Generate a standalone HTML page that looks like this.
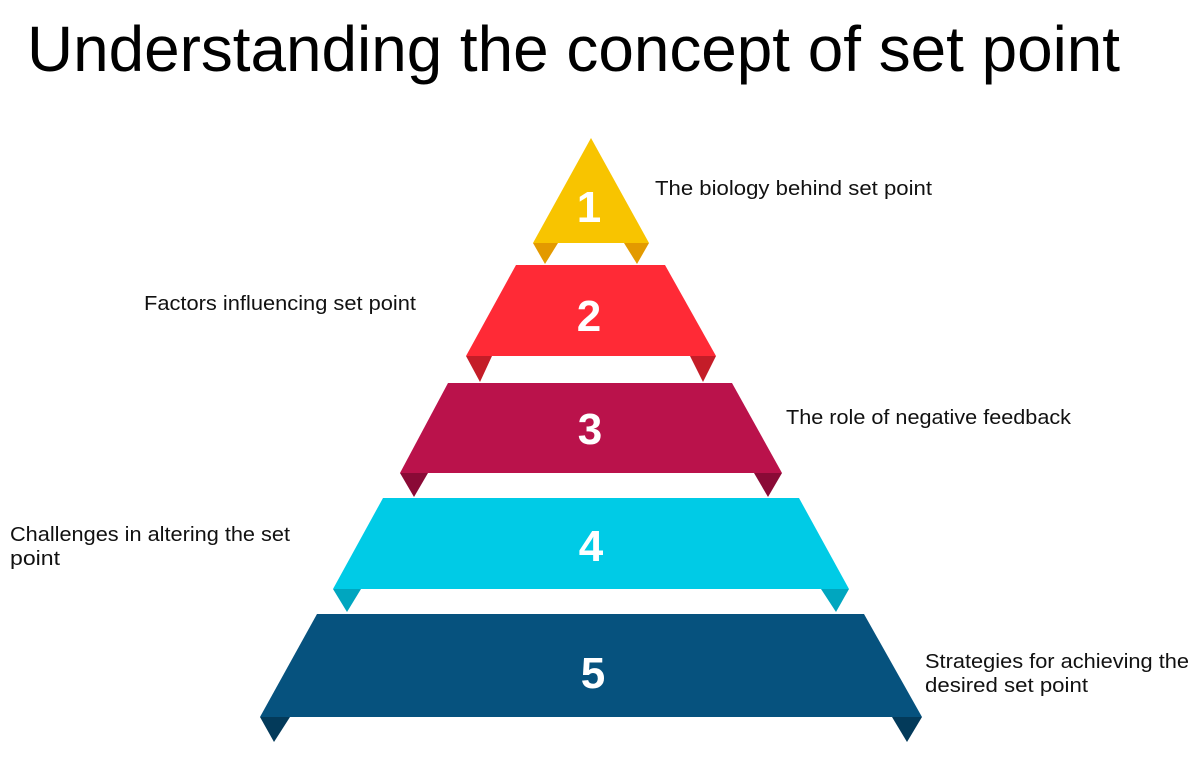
<!DOCTYPE html>
<html><head><meta charset="utf-8"><style>html,body{margin:0;padding:0;background:#fff;}svg{display:block}</style></head>
<body>
<svg width="1202" height="769" viewBox="0 0 1202 769" xmlns="http://www.w3.org/2000/svg">
<text x="27" y="71" font-family="Liberation Sans, sans-serif" font-size="64" textLength="1093" lengthAdjust="spacingAndGlyphs" fill="#000">Understanding the concept of set point</text>

<!-- tier 1 -->
<polygon points="533,243 558,243 545,264" fill="#E39A00"/>
<polygon points="649,243 624,243 637,264" fill="#E39A00"/>
<polygon points="591,138 649,243 533,243" fill="#F8C400"/>
<!-- tier 2 -->
<polygon points="466,356 492,356 480,382" fill="#C41D28"/>
<polygon points="716,356 690,356 703,382" fill="#C41D28"/>
<polygon points="516,265 665,265 716,356 466,356" fill="#FF2A36"/>
<!-- tier 3 -->
<polygon points="400,473 428,473 414,497" fill="#8A0A36"/>
<polygon points="782,473 754,473 768,497" fill="#8A0A36"/>
<polygon points="448,383 732,383 782,473 400,473" fill="#BA124B"/>
<!-- tier 4 -->
<polygon points="333,589 361,589 347,612" fill="#00A6BF"/>
<polygon points="849,589 821,589 836,612" fill="#00A6BF"/>
<polygon points="383,498 799,498 849,589 333,589" fill="#00CBE6"/>
<!-- tier 5 -->
<polygon points="260,717 290,717 274,742" fill="#033A5A"/>
<polygon points="922,717 892,717 907,742" fill="#033A5A"/>
<polygon points="317,614 864,614 922,717 260,717" fill="#06527E"/>

<g font-family="Liberation Sans, sans-serif" font-weight="bold" font-size="44" fill="#fff" text-anchor="middle">
<text x="589" y="222">1</text>
<text x="589" y="331">2</text>
<text x="590" y="444">3</text>
<text x="591" y="561">4</text>
<text x="593" y="688">5</text>
</g>

<g font-family="Liberation Sans, sans-serif" font-size="20" fill="#111">
<text x="655" y="195" textLength="277" lengthAdjust="spacingAndGlyphs">The biology behind set point</text>
<text x="144" y="310" textLength="272" lengthAdjust="spacingAndGlyphs">Factors influencing set point</text>
<text x="786" y="424" textLength="285" lengthAdjust="spacingAndGlyphs">The role of negative feedback</text>
<text x="10" y="541" textLength="280" lengthAdjust="spacingAndGlyphs">Challenges in altering the set</text>
<text x="10" y="565" textLength="50" lengthAdjust="spacingAndGlyphs">point</text>
<text x="925" y="668" textLength="264" lengthAdjust="spacingAndGlyphs">Strategies for achieving the</text>
<text x="925" y="692" textLength="163" lengthAdjust="spacingAndGlyphs">desired set point</text>
</g>
</svg>
</body></html>
